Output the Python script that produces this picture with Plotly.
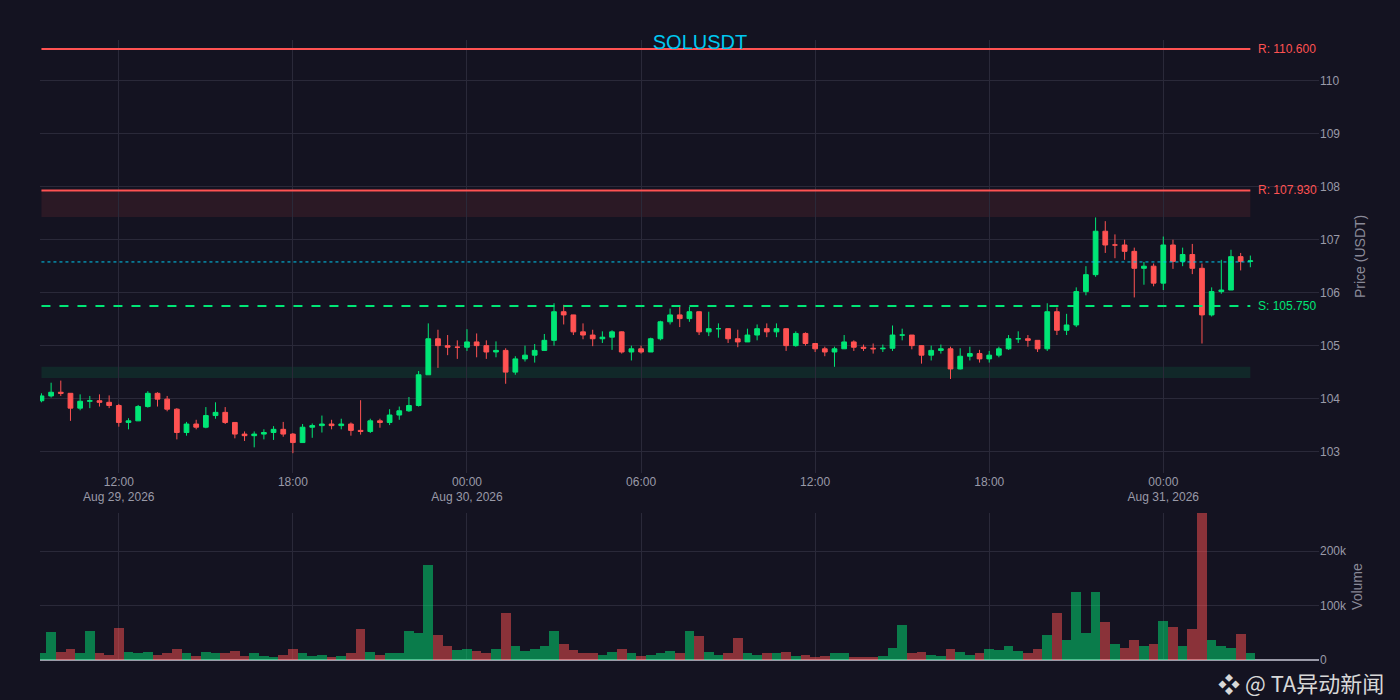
import pandas as pd
import plotly.graph_objects as go
from plotly.subplots import make_subplots

# 20-minute candles, SOLUSDT
symbol = "SOLUSDT"
start_time = "2026-08-29 09:20"
first_open = 103.96

closes = [104.05, 104.12, 104.10, 103.82, 103.95, 103.96, 103.93, 103.87, 103.55, 103.58,
          103.85, 104.10, 103.99, 103.80, 103.36, 103.52, 103.46, 103.68, 103.74, 103.55,
          103.33, 103.30, 103.33, 103.36, 103.42, 103.33, 103.17, 103.46, 103.49, 103.52,
          103.49, 103.52, 103.40, 103.38, 103.58, 103.55, 103.69, 103.77, 103.87, 104.45,
          105.13, 105.00, 104.97, 104.97, 105.07, 105.00, 104.88, 104.91, 104.50, 104.75,
          104.82, 104.91, 105.10, 105.64, 105.58, 105.26, 105.20, 105.13, 105.16, 105.26,
          104.88, 104.94, 104.88, 105.13, 105.45, 105.58, 105.51, 105.64, 105.26, 105.32,
          105.32, 105.13, 105.07, 105.20, 105.32, 105.26, 105.32, 105.00, 105.23, 105.04,
          104.94, 104.88, 104.94, 105.07, 104.97, 104.95, 104.94, 104.95, 105.20, 105.20,
          105.00, 104.82, 104.91, 104.94, 104.56, 104.80, 104.85, 104.75, 104.82, 104.94,
          105.13, 105.13, 105.10, 104.94, 105.64, 105.29, 105.39, 106.02, 106.34, 107.16,
          106.90, 106.90, 106.78, 106.46, 106.50, 106.18, 106.90, 106.59, 106.72, 106.46,
          105.58, 106.02, 106.05, 106.68, 106.59, 106.60]
highs = [104.10, 104.30, 104.34, 104.10, 104.08, 104.05, 104.08, 104.06, 103.90, 103.63,
         103.88, 104.14, 104.12, 104.05, 103.82, 103.56, 103.60, 103.84, 103.93, 103.84,
         103.55, 103.38, 103.38, 103.42, 103.48, 103.56, 103.35, 103.52, 103.53, 103.68,
         103.60, 103.62, 103.55, 103.97, 103.62, 103.62, 103.80, 103.85, 104.03, 104.52,
         105.42, 105.30, 105.20, 105.10, 105.31, 105.23, 105.10, 105.08, 104.95, 104.80,
         105.00, 105.03, 105.22, 105.80, 105.77, 105.50, 105.42, 105.30, 105.27, 105.29,
         105.27, 105.00, 105.00, 105.15, 105.47, 105.70, 105.73, 105.73, 105.62, 105.64,
         105.42, 105.30, 105.30, 105.32, 105.40, 105.42, 105.42, 105.20, 105.27, 105.25,
         105.05, 104.98, 104.98, 105.20, 105.10, 105.02, 105.04, 105.02, 105.38, 105.32,
         105.15, 104.98, 105.00, 105.02, 104.98, 104.95, 104.98, 104.92, 104.90, 104.98,
         105.20, 105.27, 105.20, 105.10, 105.80, 105.72, 105.60, 106.10, 106.50, 107.42,
         107.35, 107.10, 107.00, 106.85, 106.58, 106.55, 107.06, 107.00, 106.85, 106.92,
         106.55, 106.10, 106.62, 106.81, 106.75, 106.70]
lows = [103.93, 104.02, 104.05, 103.58, 103.78, 103.82, 103.85, 103.82, 103.47, 103.42,
        103.58, 103.83, 103.85, 103.76, 103.23, 103.30, 103.42, 103.44, 103.62, 103.52,
        103.25, 103.20, 103.08, 103.23, 103.22, 103.28, 102.97, 103.17, 103.26, 103.36,
        103.42, 103.42, 103.30, 103.32, 103.35, 103.45, 103.50, 103.60, 103.75, 103.85,
        104.45, 104.58, 104.82, 104.75, 104.90, 104.78, 104.75, 104.78, 104.28, 104.45,
        104.70, 104.68, 104.90, 105.00, 105.40, 105.20, 105.12, 104.99, 105.05, 104.92,
        104.85, 104.72, 104.85, 104.88, 105.10, 105.40, 105.35, 105.45, 105.20, 105.18,
        105.15, 105.05, 104.97, 105.07, 105.10, 105.16, 105.16, 104.90, 104.98, 105.00,
        104.88, 104.80, 104.60, 104.94, 104.90, 104.90, 104.85, 104.88, 104.90, 105.10,
        104.93, 104.66, 104.72, 104.85, 104.37, 104.55, 104.72, 104.68, 104.68, 104.78,
        104.92, 105.05, 104.98, 104.88, 104.90, 105.20, 105.20, 105.35, 105.95, 106.30,
        106.75, 106.65, 106.62, 105.91, 106.15, 106.12, 106.05, 106.45, 106.50, 106.35,
        105.04, 105.55, 105.98, 106.05, 106.42, 106.48]
volumes_k = [12, 51, 15, 20, 13, 53, 12, 10, 58, 15,
             12, 15, 10, 12, 20, 12, 8, 15, 12, 13,
             16, 8, 12, 8, 6, 10, 20, 12, 8, 10,
             6, 8, 12, 57, 15, 10, 13, 12, 53, 50,
             175, 45, 26, 18, 20, 16, 13, 20, 86, 26,
             16, 20, 26, 53, 30, 18, 12, 13, 10, 15,
             20, 12, 8, 10, 13, 16, 12, 54, 44, 15,
             10, 12, 41, 12, 10, 13, 12, 15, 8, 10,
             6, 8, 12, 13, 6, 5, 6, 8, 22, 64,
             12, 15, 10, 8, 20, 15, 10, 13, 20, 18,
             26, 16, 12, 20, 45, 86, 36, 125, 50, 124,
             69, 30, 22, 36, 26, 30, 71, 61, 26, 56,
             270, 36, 26, 22, 48, 13]

resistances = [110.600, 107.930]
supports = [105.750]
resistance_zone = (107.43, 107.93)
support_zone = (104.39, 104.60)
last_price = 106.58

GREEN = "#00e676"
RED = "#ff5252"
BG = "#141321"
GRID = "#2a2939"
TXT = "#9a9aa8"

times = pd.date_range(start_time, periods=len(closes), freq="20min")
opens = [first_open] + closes[:-1]
volumes = [v * 1000 for v in volumes_k]
vol_colors = ["rgba(0,230,118,0.5)" if c >= o else "rgba(255,82,82,0.5)" for o, c in zip(opens, closes)]

fig = make_subplots(rows=2, cols=1, shared_xaxes=True)
fig.add_trace(go.Candlestick(x=times, open=opens, high=highs, low=lows, close=closes,
                             increasing=dict(line=dict(color=GREEN, width=1), fillcolor=GREEN),
                             decreasing=dict(line=dict(color=RED, width=1), fillcolor=RED),
                             showlegend=False), row=1, col=1)
fig.add_trace(go.Bar(x=times, y=volumes, marker=dict(color=vol_colors, line=dict(width=0)),
                     showlegend=False), row=2, col=1)

t0, t1 = times[0], times[-1]

# zones
fig.add_shape(type="rect", x0=t0, x1=t1, y0=resistance_zone[0], y1=resistance_zone[1], xref="x", yref="y",
              fillcolor="rgba(255,82,82,0.1)", line=dict(width=0), layer="below")
fig.add_shape(type="rect", x0=t0, x1=t1, y0=support_zone[0], y1=support_zone[1], xref="x", yref="y",
              fillcolor="rgba(0,230,118,0.1)", line=dict(width=0), layer="below")

for r in resistances:
    fig.add_shape(type="line", x0=t0, x1=t1, y0=r, y1=r, xref="x", yref="y", line=dict(color=RED, width=2))
    fig.add_annotation(x=t1, y=r, xref="x", yref="y", text=f"R: {r:.3f}", showarrow=False,
                       xanchor="left", xshift=6, font=dict(color=RED, size=12))
for s in supports:
    fig.add_shape(type="line", x0=t0, x1=t1, y0=s, y1=s, xref="x", yref="y",
                  line=dict(color=GREEN, width=2, dash="dash"))
    fig.add_annotation(x=t1, y=s, xref="x", yref="y", text=f"S: {s:.3f}", showarrow=False,
                       xanchor="left", xshift=6, font=dict(color=GREEN, size=12))

fig.add_shape(type="line", x0=t0, x1=t1, y0=last_price, y1=last_price, xref="x", yref="y",
              line=dict(color="#00c8f0", width=1, dash="dot"))

# watermark
fig.add_annotation(x=0.986, y=-0.036, xref="paper", yref="paper", text="❖ @ TA异动新闻", showarrow=False,
                   font=dict(color="#d8d8d8", size=22, family="Noto Sans CJK SC"), xanchor="center", yanchor="middle")

fig.update_layout(
    width=1400, height=700,
    paper_bgcolor=BG, plot_bgcolor=BG,
    margin=dict(l=40, r=81, t=40, b=40),
    font=dict(family="Arial, Liberation Sans", color=TXT, size=12),
    title=dict(text=symbol, x=0.5, xref="container", y=0.94, yref="container", yanchor="middle",
               font=dict(color="#00c8f0", size=20)),
    showlegend=False,
    bargap=0,
)
x_range = [pd.Timestamp("2026-08-29 09:17"), pd.Timestamp("2026-08-31 05:22")]
fig.update_xaxes(gridcolor=GRID, showline=False, zeroline=False, range=x_range, rangeslider_visible=False)
fig.update_xaxes(showticklabels=True, row=1, col=1)
fig.update_xaxes(showticklabels=False, row=2, col=1)
fig.update_layout(
    yaxis=dict(domain=[0.302, 1], side="right", range=[102.6, 110.77], dtick=1, gridcolor=GRID,
               zeroline=False, title=dict(text="Price (USDT)", font=dict(color="#8a8a98", size=14))),
    yaxis2=dict(domain=[0, 0.237], side="right", range=[0, 270000], tickvals=[0, 100000, 200000],
                ticktext=["0", "100k", "200k"], gridcolor=GRID, zeroline=True, zerolinecolor="#9a9aa8",
                zerolinewidth=2, title=dict(text="Volume", font=dict(color="#8a8a98", size=14), standoff=6)),
)

fig.write_html("out.html", config={"displayModeBar": False},
               post_script="document.body.style.margin = '0'; document.body.style.background = '%s';" % BG)
